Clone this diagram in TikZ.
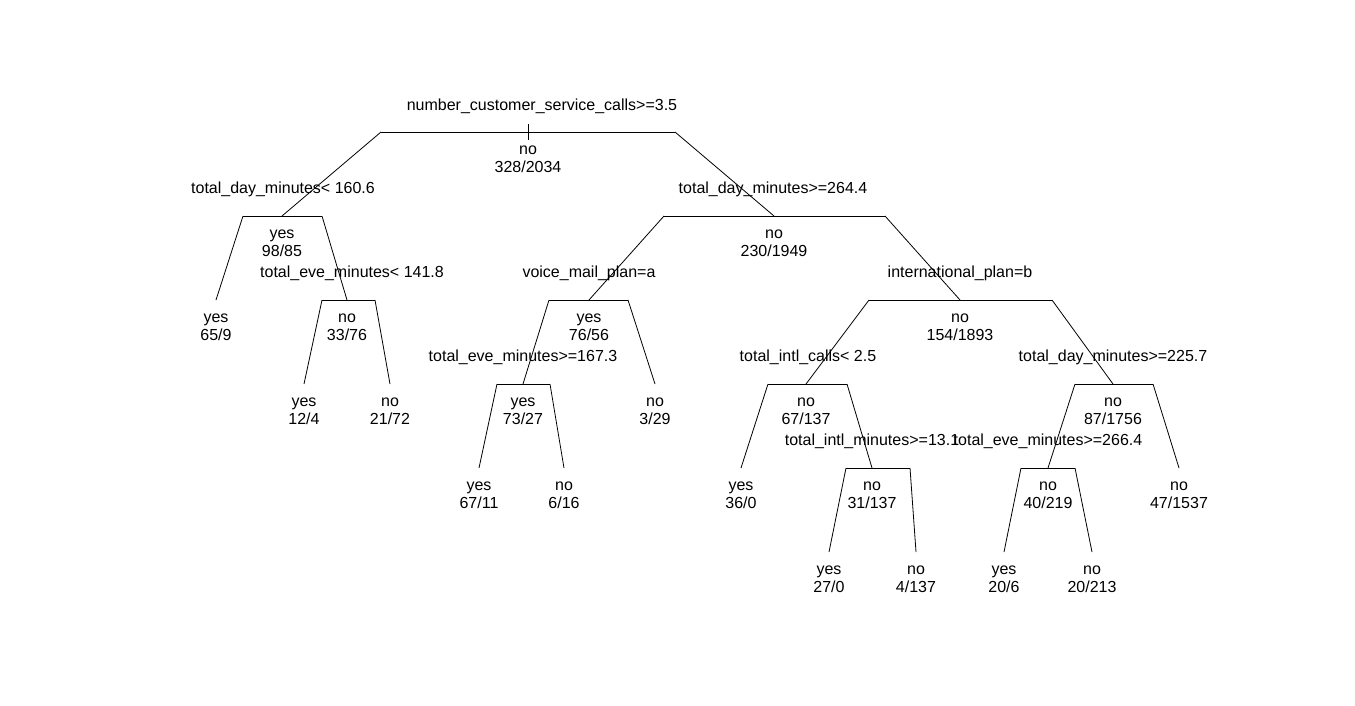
\documentclass[tikz,border=0pt]{standalone}
\usepackage{fontspec}
\setmainfont{Liberation Sans}
\begin{document}
\begin{tikzpicture}[x=1pt,y=-1pt,
  lab/.style={inner sep=0pt,font=\fontsize{16}{18}\selectfont,align=center},
  br/.style={line width=0.8pt}]
\useasboundingbox (0,0) rectangle (1355,706);
% helpers
\newcommand{\nd}[5]{% name x liney line1 line2
  \node[lab] (#1) at (#2,#3+27) {#4\\#5};}
\newcommand{\spl}[4]{% name x y text
  \node[lab] (#1) at (#2,#3) {#4};}
% coordinates of split bars
\foreach \n/\a/\b/\y in {r/381/675/132, n1/243/322/216, n2/664/885/216, n3/322/375/300,
  n4/549/628/300, n5/869/1052/300, n6/497/550/384, n7/768/847/384, n8/1075/1153/384,
  n9/846/910/468, n10/1021/1075/468}{
  \coordinate (\n L) at (\a,\y); \coordinate (\n R) at (\b,\y);
}
\foreach \n/\x/\y in {c1/282/216, c2/774/216, l1/216/300, c3/347/300, l2/304/384, l3/390/384,
  c4/589/300, c5/960/300, c6/523/384, l4/655/384, l5/479/468, l6/564/468,
  c7/806/384, c8/1113/384, l7/741/468, c9/872/468, l8/829/552, l9/916/552,
  c10/1048/468, l10/1179/468, l11/1004/552, l12/1092/552}{
  \coordinate (\n) at (\x,\y);
}
\draw[br] (rL) -- (rR);
\coordinate (rt1) at (528,124); \coordinate (rt2) at (528,140);
\draw[br] (rt1) -- (rt2);
\draw[br] (rL) -- (c1); \draw[br] (rR) -- (c2);
\draw[br] (n1L) -- (n1R); \draw[br] (n1L) -- (l1); \draw[br] (n1R) -- (c3);
\draw[br] (n3L) -- (n3R); \draw[br] (n3L) -- (l2); \draw[br] (n3R) -- (l3);
\draw[br] (n2L) -- (n2R); \draw[br] (n2L) -- (c4); \draw[br] (n2R) -- (c5);
\draw[br] (n4L) -- (n4R); \draw[br] (n4L) -- (c6); \draw[br] (n4R) -- (l4);
\draw[br] (n6L) -- (n6R); \draw[br] (n6L) -- (l5); \draw[br] (n6R) -- (l6);
\draw[br] (n5L) -- (n5R); \draw[br] (n5L) -- (c7); \draw[br] (n5R) -- (c8);
\draw[br] (n7L) -- (n7R); \draw[br] (n7L) -- (l7); \draw[br] (n7R) -- (c9);
\draw[br] (n9L) -- (n9R); \draw[br] (n9L) -- (l8); \draw[br] (n9R) -- (l9);
\draw[br] (n8L) -- (n8R); \draw[br] (n8L) -- (c10); \draw[br] (n8R) -- (l10);
\draw[br] (n10L) -- (n10R); \draw[br] (n10L) -- (l11); \draw[br] (n10R) -- (l12);
% split labels
\spl{s0}{542}{106}{number\_customer\_service\_calls>=3.5}
\spl{s1}{283}{189}{total\_day\_minutes< 160.6}
\spl{s2}{773}{189}{total\_day\_minutes>=264.4}
\spl{s3}{352}{273}{total\_eve\_minutes< 141.8}
\spl{s4}{589}{273}{voice\_mail\_plan=a}
\spl{s5}{960}{273}{international\_plan=b}
\spl{s6}{523}{357}{total\_eve\_minutes>=167.3}
\spl{s7}{808}{357}{total\_intl\_calls< 2.5}
\spl{s8}{1113}{357}{total\_day\_minutes>=225.7}
\spl{s9}{872}{441}{total\_intl\_minutes>=13.1}
\spl{s10}{1048}{441}{total\_eve\_minutes>=266.4}
% node labels
\nd{t0}{528}{132}{no}{328/2034}
\nd{t1}{282}{216}{yes}{98/85}
\nd{t2}{774}{216}{no}{230/1949}
\nd{t3}{216}{300}{yes}{65/9}
\nd{t4}{347}{300}{no}{33/76}
\nd{t5}{304}{384}{yes}{12/4}
\nd{t6}{390}{384}{no}{21/72}
\nd{t7}{589}{300}{yes}{76/56}
\nd{t8}{960}{300}{no}{154/1893}
\nd{t9}{523}{384}{yes}{73/27}
\nd{t10}{655}{384}{no}{3/29}
\nd{t11}{479}{468}{yes}{67/11}
\nd{t12}{564}{468}{no}{6/16}
\nd{t13}{806}{384}{no}{67/137}
\nd{t14}{1113}{384}{no}{87/1756}
\nd{t15}{741}{468}{yes}{36/0}
\nd{t16}{872}{468}{no}{31/137}
\nd{t17}{829}{552}{yes}{27/0}
\nd{t18}{916}{552}{no}{4/137}
\nd{t19}{1048}{468}{no}{40/219}
\nd{t20}{1179}{468}{no}{47/1537}
\nd{t21}{1004}{552}{yes}{20/6}
\nd{t22}{1092}{552}{no}{20/213}
\end{tikzpicture}
\end{document}
